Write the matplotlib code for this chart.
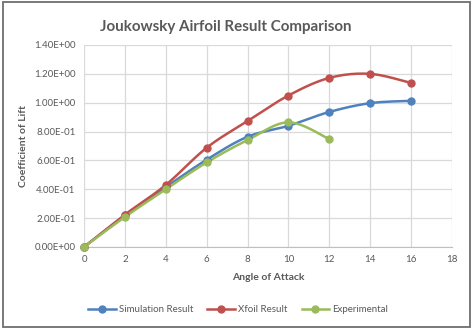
import numpy as np
import matplotlib
matplotlib.use("Agg")
import matplotlib.pyplot as plt
from matplotlib.patches import Rectangle
from matplotlib.lines import Line2D

# Data
angles_sim = [0, 2, 4, 6, 8, 10, 12, 14, 16]
cl_sim = [0.0, 0.22, 0.415, 0.605, 0.764, 0.84, 0.936, 0.997, 1.013]
angles_xfoil = [0, 2, 4, 6, 8, 10, 12, 14, 16]
cl_xfoil = [0.0, 0.224, 0.43, 0.688, 0.873, 1.05, 1.172, 1.2, 1.137]
angles_exp = [0, 2, 4, 6, 8, 10, 12]
cl_exp = [0.0, 0.208, 0.40, 0.586, 0.741, 0.864, 0.748]
series_names = ["Simulation Result", "Xfoil Result", "Experimental"]
colors = ["#4F81BD", "#C0504D", "#9BBB59"]
yticks = [0.0, 0.2, 0.4, 0.6, 0.8, 1.0, 1.2, 1.4]
xticks = [0, 2, 4, 6, 8, 10, 12, 14, 16, 18]


def smooth(x, y, n=20, tension=1/6):
    # Excel-like smoothing with cubic Bezier segments (Catmull-Rom style)
    x = np.asarray(x, float); y = np.asarray(y, float)
    pts = np.column_stack([x, y])
    out = [pts[0]]
    for i in range(len(pts) - 1):
        p0 = pts[i - 1] if i > 0 else pts[i]
        p1 = pts[i]
        p2 = pts[i + 1]
        p3 = pts[i + 2] if i + 2 < len(pts) else pts[i + 1]
        c1 = p1 + (p2 - p0) * tension
        c2 = p2 - (p3 - p1) * tension
        t = np.linspace(0, 1, n)[1:, None]
        seg = ((1 - t) ** 3) * p1 + 3 * ((1 - t) ** 2) * t * c1 + 3 * (1 - t) * t ** 2 * c2 + t ** 3 * p2
        out.extend(seg)
    out = np.array(out)
    return out[:, 0], out[:, 1]


plt.rcParams['font.family'] = ['Lato', 'DejaVu Sans']
W, H = 474, 331
fig = plt.figure(figsize=(W / 100, H / 100), dpi=100)
fig.patch.set_facecolor("white")

# chart border
fig.add_artist(Rectangle((2.5 / W, 1 - 327 / H), 467.5 / W, 325 / H, transform=fig.transFigure,
                         fill=False, edgecolor="#6E6E6E", linewidth=1.3))

ax = fig.add_axes([84 / W, 1 - 247 / H, (452 - 84) / W, (247 - 45) / H])
ax.set_xlim(0, 18)
ax.set_ylim(0, 1.4)
ax.set_xticks(xticks)
ax.set_yticks(yticks)
ax.set_yticklabels(["{:.2E}".format(v) for v in yticks])
ax.grid(True, color="#D9D9D9", linewidth=0.9)
ax.set_axisbelow(True)
for s in ["top", "right", "left"]:
    ax.spines[s].set_visible(False)
ax.spines["bottom"].set_color("#BFBFBF")
ax.tick_params(length=0, labelsize=7, colors="#595959", pad=6)

data = [(angles_sim, cl_sim), (angles_xfoil, cl_xfoil), (angles_exp, cl_exp)]
for (xs, ys), c in zip(data, colors):
    sx, sy = smooth(xs, ys)
    ax.plot(sx, sy, color=c, linewidth=1.8, solid_capstyle="round", clip_on=False, zorder=3)
    ax.plot(xs, ys, linestyle="none", marker="o", markersize=5, color=c, clip_on=False, zorder=4)

ax.set_xlabel("Angle of Attack", fontsize=7.5, fontweight="bold", color="#595959", labelpad=6)
ax.set_ylabel("Coefficient of Lift", fontsize=7.5, fontweight="bold", color="#595959")
ax.yaxis.set_label_coords(24 / W, 0.5, transform=fig.transFigure)
ax.yaxis.label.set_verticalalignment("center")
ax.yaxis.label.set_y(1 - 146 / H)

fig.text(226 / W, 1 - 27 / H, "Joukowsky Airfoil Result Comparison",
         ha="center", va="center", fontsize=10.9, fontweight="bold", color="#595959")

handles = [Line2D([0], [0], color=c, linewidth=1.8, marker="o", markersize=5) for c in colors]
fig.legend(handles, series_names, loc="center", bbox_to_anchor=(238 / W, 1 - 310 / H),
           ncol=3, frameon=False, fontsize=7, labelcolor="#595959", handlelength=2.8,
           columnspacing=1.5, handletextpad=0.3)

fig.savefig("out.png", dpi=100, facecolor="white")
